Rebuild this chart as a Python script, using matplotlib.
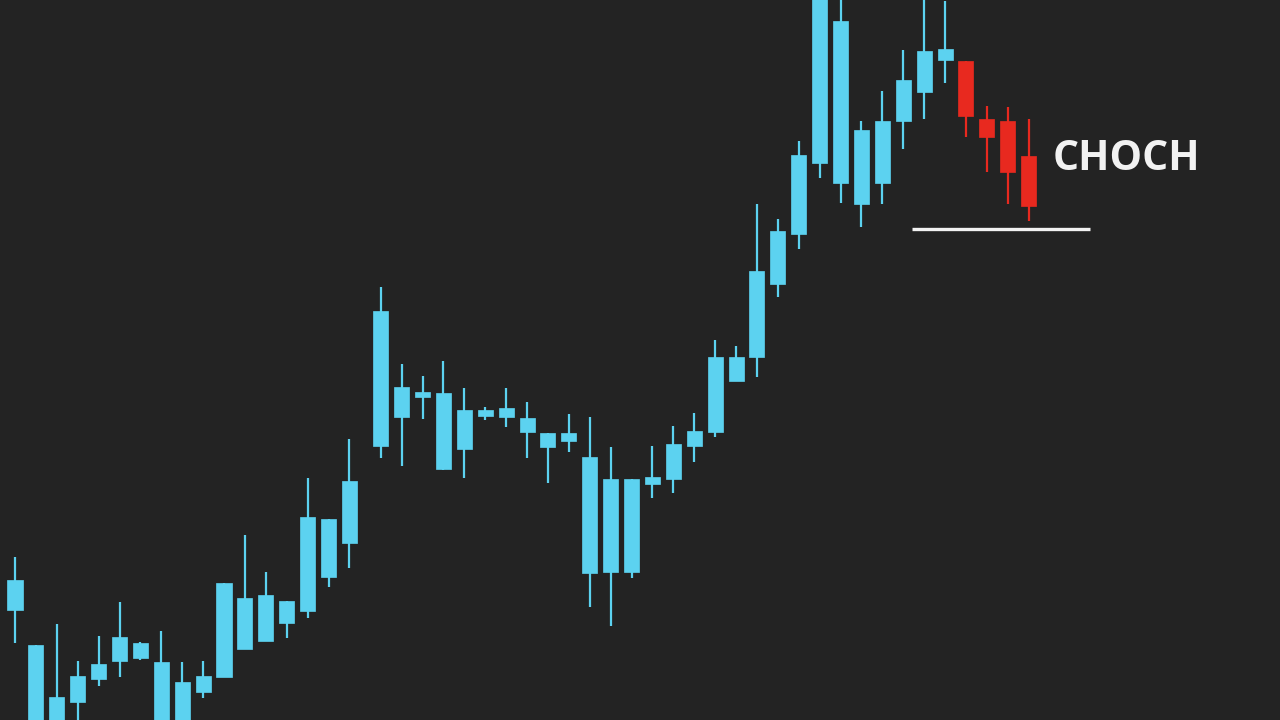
import numpy as np
import matplotlib
matplotlib.use("Agg")
import matplotlib.pyplot as plt

# OHLC values (arbitrary price units)
opens = [110, -10, -10, 18, 41, 59, 62, -10, -10, 28,
         43, 71, 79, 97, 109, 143, 177, 274, 303, 323,
         251, 271, 304, 303, 288, 273, 279, 147, 148, 148,
         236, 241, 274, 288, 339, 363, 436, 486, 557, 537,
         516, 537, 599, 628, 660, 659, 601, 599, 564]
highs = [163, 75, 96, 59, 84, 118, 78, 89, 58, 59,
         137, 185, 148, 119, 242, 201, 281, 433, 356, 344,
         359, 332, 313, 332, 318, 287, 306, 303, 273, 241,
         274, 294, 307, 380, 374, 516, 501, 579, 730, 730,
         599, 629, 670, 730, 719, 659, 614, 613, 601]
lows = [77, -10, -10, -10, 34, 43, 60, -10, -10, 22,
        43, 71, 79, 82, 102, 133, 152, 262, 254, 301,
        250, 242, 300, 293, 262, 237, 268, 113, 94, 142,
        222, 227, 258, 283, 339, 343, 423, 471, 542, 517,
        493, 516, 571, 601, 637, 583, 548, 516, 499]
closes = [140, 75, 23, 44, 56, 83, 77, 58, 38, 44,
          137, 122, 125, 119, 203, 201, 239, 409, 333, 328,
          327, 310, 310, 312, 302, 287, 287, 263, 241, 241,
          243, 276, 289, 363, 363, 449, 489, 565, 730, 699,
          590, 599, 640, 669, 671, 604, 583, 548, 514]
choch_level = 491
choch_label = "CHOCH"

BG = "#232323"
UP = "#5cd2f0"
DOWN = "#e8291f"

n = len(opens)
idx = np.arange(n)
# small session gap after the 17th candle
xpos = idx + 0.5 * (idx >= 17)

fig = plt.figure(figsize=(12.8, 7.2), dpi=100, facecolor=BG)
ax = fig.add_axes([0, 0, 1, 1])
ax.set_facecolor(BG)

o = np.array(opens, float)
c = np.array(closes, float)
h = np.array(highs, float)
l = np.array(lows, float)
colors = [DOWN if cc < oo else UP for oo, cc in zip(o, c)]

ax.vlines(xpos, l, h, colors=colors, linewidth=1.6, zorder=2)
bottoms = np.minimum(o, c)
heights = np.maximum(np.abs(c - o), 1.5)
ax.bar(xpos, heights, bottom=bottoms, width=0.72, color=colors,
       edgecolor=colors, linewidth=0.5, zorder=3)

ax.hlines(choch_level, 42.9, 51.45, colors="#f2f2f2", linewidth=2.4, zorder=4)
ax.text(49.67, 560, choch_label, color="#f2f2f2", fontsize=29.5,
        fontweight="bold", family=["Open Sans", "DejaVu Sans"],
        ha="left", va="center", zorder=5)

step = 20.9
ax.set_xlim(-15 / step, (1280 - 15) / step)
ax.set_ylim(0, 720)
ax.axis("off")

fig.savefig("out.png", dpi=100, facecolor=BG)
